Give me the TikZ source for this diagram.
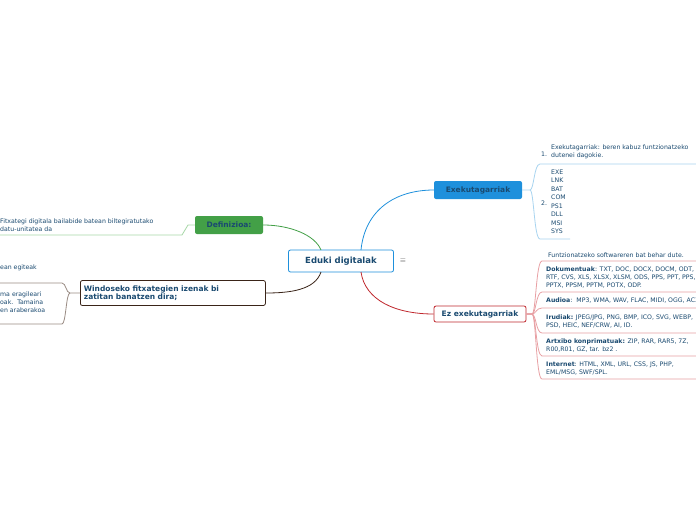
\documentclass[tikz,border=0pt]{standalone}
\usepackage{fontspec}
\setmainfont{DejaVu Sans}
\begin{document}
\begin{tikzpicture}[x=1pt,y=-1pt,
 txt/.style={font=\fontsize{6.2}{8}\selectfont,text=tx,anchor=west,align=left,inner sep=0},
 topic/.style={rounded corners=2pt,font=\bfseries\fontsize{7.5}{8.5}\selectfont,text=tx,inner sep=3pt}]
\definecolor{tx}{HTML}{1A4A70}
\clip (0,0) rectangle (696,520);
\fill[white] (0,0) rectangle (696,520);
\definecolor{cb}{HTML}{1E90DC}\definecolor{cbl}{HTML}{A8D4F0}
\definecolor{cr}{HTML}{C0282E}\definecolor{crl}{HTML}{E8A0A4}
\definecolor{cg}{HTML}{43A047}\definecolor{cgl}{HTML}{A8D8A8}
\definecolor{cd}{HTML}{3A2418}\definecolor{cdl}{HTML}{9A8C84}
\node[draw=cb,thick,rounded corners=2pt,fill=white,font=\bfseries\fontsize{8.5}{10}\selectfont,text=tx,minimum width=105,minimum height=22] (c) at (341,261) {Eduki digitalak};
\node[font=\fontsize{7}{8}\selectfont,text=gray!70!black] (m) at (403,261) {$\equiv$};
\node[topic,fill=cb,minimum width=88,minimum height=18] (ex) at (478,190) {Exekutagarriak};
\node[topic,draw=cr,thick,fill=white,minimum width=92,minimum height=16] (ez) at (480,314) {Ez exekutagarriak};
\node[topic,fill=cg,minimum width=68,minimum height=18] (def) at (229,225) {Definizioa:};
\node[topic,draw=cd,thick,fill=white,minimum width=185,minimum height=25,align=left,anchor=west,text width=178] (win) at (80,293) {Windoseko fitxategien izenak bi\\zatitan banatzen dira;};
\draw[cb,thick] (361,250) .. controls (365,210) and (395,190) .. (ex.west);
\draw[cr,thick] (361,272) .. controls (365,300) and (395,314) .. (ez.west);
\draw[cg,thick] (321,250) .. controls (315,235) and (290,225) .. (def.east);
\draw[cd,thick] (321,272) .. controls (315,290) and (290,293) .. (win.east);
% Exekutagarriak branches
\draw[cbl,thick] (ex.east) -- (530,190) .. controls (534,190) and (534,164) .. (540,164) -- (696,164);
\draw[cbl,thick] (530,190) .. controls (534,190) and (534,239) .. (540,239) -- (570,239);
\node[txt] (e1n) at (541,154) {1.};
\node[txt] (e1) at (551,152) {Exekutagarriak: beren kabuz funtzionatzeko\\dutenei dagokie.};
\node[txt] (e2n) at (541,203) {2.};
\node[txt,font=\fontsize{6.2}{8.5}\selectfont] (e2) at (551,202) {EXE\\LNK\\BAT\\COM\\PS1\\DLL\\MSI\\SYS};
% Ez exekutagarriak
\foreach \y in {261,292,308,333,356,379}{
 \draw[crl,thick] (ez.east) -- (532,314) .. controls (536,314) and (536,\y) .. (542,\y) -- (696,\y);}
\node[txt] (z0) at (548,255) {Funtzionatzeko softwareren bat behar dute.};
\node[txt] (z1) at (546,277) {\textbf{Dokumentuak}: TXT, DOC, DOCX, DOCM, ODT,\\RTF, CVS, XLS, XLSX, XLSM, ODS, PPS, PPT, PPS,\\PPTX, PPSM, PPTM, POTX, ODP.};
\node[txt] (z2) at (546,300) {\textbf{Audioa}:\ \ MP3, WMA, WAV, FLAC, MIDI, OGG, AC3.};
\node[txt] (z3) at (546,321) {\textbf{Irudiak:} JPEG/JPG, PNG, BMP, ICO, SVG, WEBP,\\PSD, HEIC, NEF/CRW, AI, ID.};
\node[txt] (z4) at (546,345) {\textbf{Artxibo konprimatuak:} ZIP, RAR, RAR5, 7Z,\\R00,R01, GZ, tar. bz2 .};
\node[txt] (z5) at (546,369) {\textbf{Internet}: HTML, XML, URL, CSS, JS, PHP,\\EML/MSG, SWF/SPL.};
% Definizioa
\draw[cgl,thick] (def.west) -- (188,225) -- (182,235) -- (0,235);
\node[txt] (d1) at (0,225) {Fitxategi digitala bailabide batean biltegiratutako\\datu-unitatea da};
% Windoseko
\draw[cdl,thick] (win.west) -- (70,293) .. controls (66,293) and (66,283) .. (62,283) -- (0,283);
\draw[cdl,thick] (70,293) .. controls (66,293) and (66,324) .. (62,324) -- (0,324);
\node[txt] (w1) at (0,268) {ean egiteak};
\node[txt] (w2) at (0,302) {ma eragileari\\oak.\ \ Tamaina\\en araberakoa};
\end{tikzpicture}
\end{document}
